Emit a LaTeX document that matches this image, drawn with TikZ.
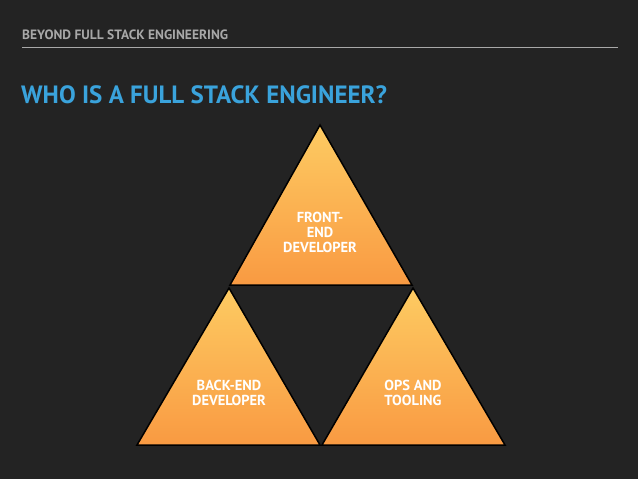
\documentclass[tikz,border=0pt]{standalone}
\usepackage{fontspec}
\setmainfont{PT Sans}
\definecolor{bg}{HTML}{232323}
\definecolor{hdr}{HTML}{A8A8A8}
\definecolor{ttl}{HTML}{3AA3DC}
\definecolor{topc}{HTML}{FDCB62}
\definecolor{botc}{HTML}{F99A42}
\tikzset{
  tri/.style={top color=topc,bottom color=botc,draw=black,line width=1.5pt,line join=miter},
  lbl/.style={text=white,font=\bfseries\fontsize{14.5}{15}\selectfont,align=center,inner sep=0pt}
}
\begin{document}
\begin{tikzpicture}[x=1pt,y=-1pt]
\fill[bg] (0,0) rectangle (638,479);
\useasboundingbox (0,0) rectangle (638,479);
\node[anchor=west,text=hdr,font=\bfseries\fontsize{13.5}{13.5}\selectfont,inner sep=0pt] (h) at (22,35) {BEYOND FULL STACK ENGINEERING};
\draw[hdr,line width=0.8pt] (22,47) -- (618,47);
\node[anchor=west,text=ttl,font=\bfseries\fontsize{25}{25}\selectfont,inner sep=0pt] (t) at (21,95) {WHO IS A FULL STACK ENGINEER?};
\path[tri] (320,125) -- (412,285) -- (230,285) -- cycle;
\path[tri] (229,288) -- (320,445) -- (137,445) -- cycle;
\path[tri] (413,288) -- (505,445) -- (322,445) -- cycle;
\node[lbl] (a) at (320,232) {FRONT-\\END\\DEVELOPER};
\node[lbl] (b) at (229,393) {BACK-END\\DEVELOPER};
\node[lbl] (c) at (413,393) {OPS AND\\TOOLING};
\end{tikzpicture}
\end{document}
